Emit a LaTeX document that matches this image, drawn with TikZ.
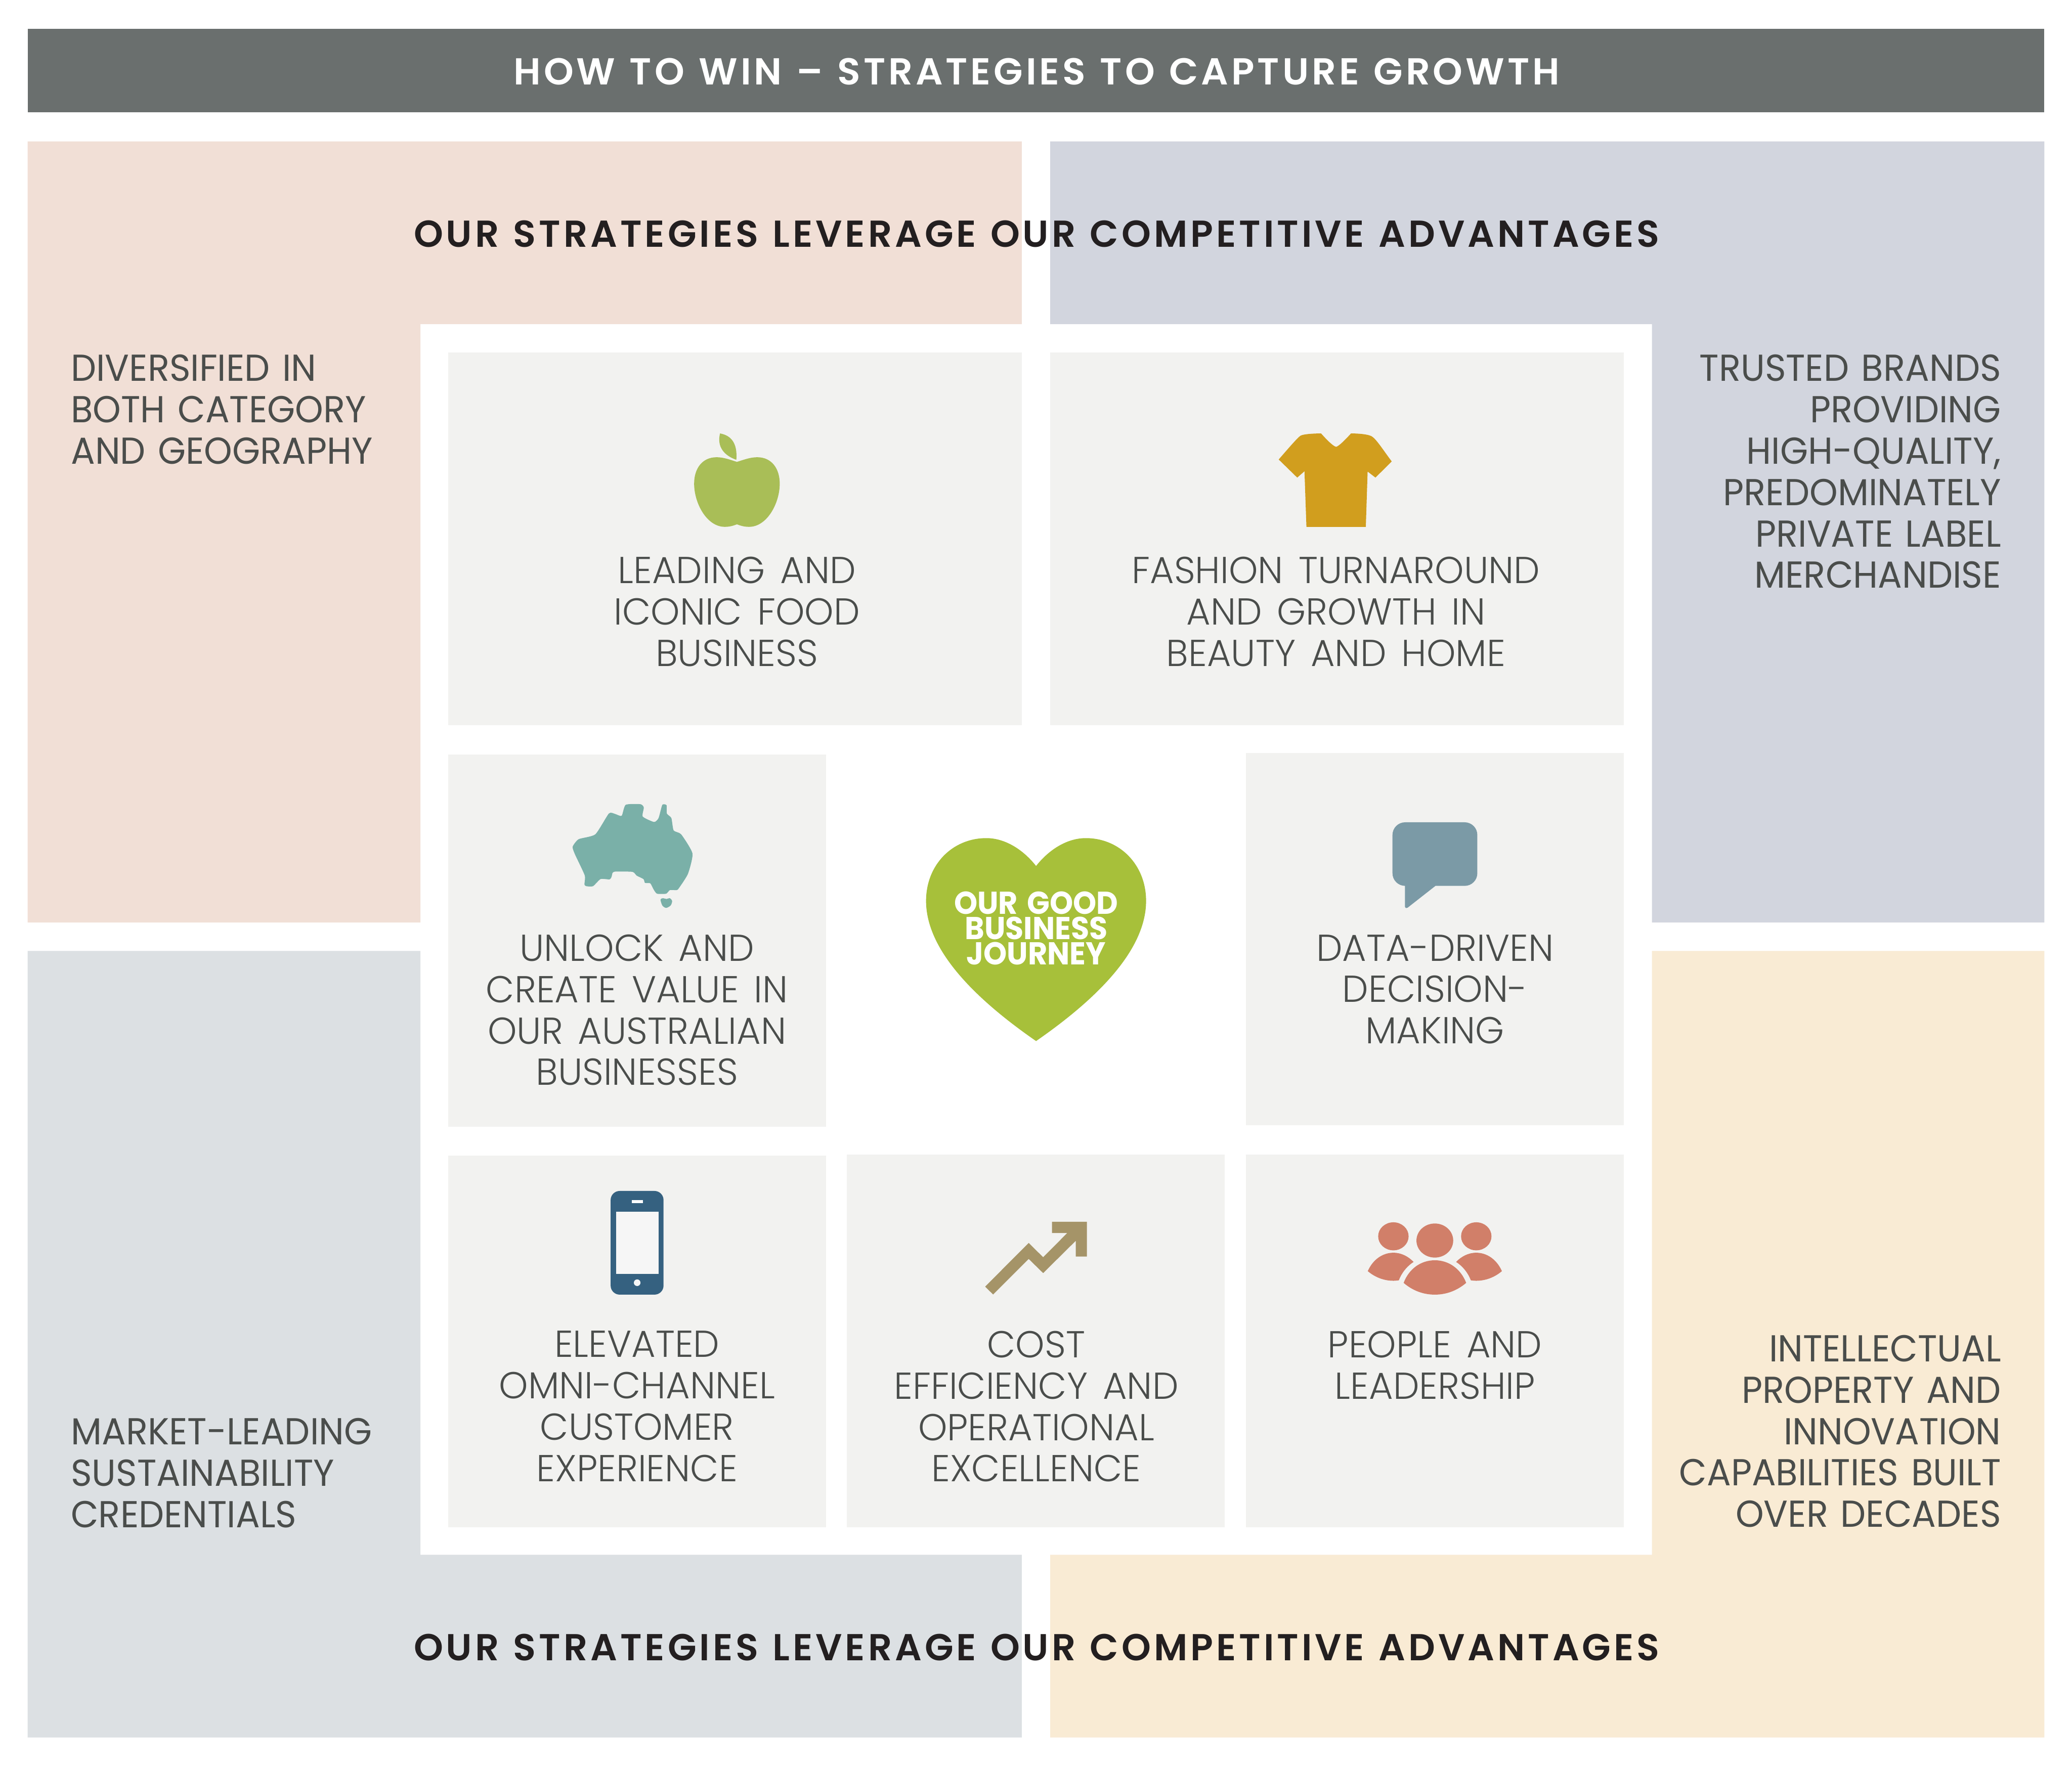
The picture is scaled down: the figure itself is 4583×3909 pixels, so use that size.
\documentclass[tikz,border=0pt]{standalone}
\usepackage{fontspec}
\setmainfont{Poppins}
\newfontfamily\cardfont{Poppins Light}[FakeStretch=0.985,WordSpace=1.5]
\newfontfamily\sidefont{Poppins}[FakeStretch=0.955,WordSpace=1.3]
\newfontfamily\headfont{Poppins SemiBold}[FakeStretch=0.995,LetterSpace=8,WordSpace=1.2]
\newfontfamily\titlefont{Poppins SemiBold}[FakeStretch=1.01,LetterSpace=8,WordSpace=1.2]
\newfontfamily\heartfont{Poppins Bold}[FakeStretch=0.94,WordSpace=1.5]
\definecolor{pinkp}{HTML}{F1DFD6}
\definecolor{bluep}{HTML}{D2D5DE}
\definecolor{grayp}{HTML}{DCE0E3}
\definecolor{creamp}{HTML}{F9EBD4}
\definecolor{cardc}{HTML}{F2F2F0}
\definecolor{barc}{HTML}{6A6F6E}
\definecolor{inkc}{HTML}{4A4D4B}
\definecolor{headc}{HTML}{231F20}
\tikzset{
 x=0.1pt,y=-0.1pt,
 cardbox/.style={fill=cardc},
 cardtxt/.style={anchor=north,align=center,inner sep=0pt,text=inkc,font=\cardfont\fontsize{8.3}{9.15}\selectfont},
 sideleft/.style={anchor=north west,align=left,inner sep=0pt,text=inkc,font=\sidefont\fontsize{8.3}{9.15}\selectfont},
 sideright/.style={anchor=north east,align=right,inner sep=0pt,text=inkc,font=\sidefont\fontsize{8.3}{9.15}\selectfont},
 headtxt/.style={inner sep=0pt,text=headc,font=\headfont\fontsize{8.3}{10}\selectfont},
 icon/.style={shift={#1},scale=0.33333},
}
\begin{document}
\begin{tikzpicture}
\useasboundingbox (0,0) rectangle (4583,3909);
\fill[white] (0,0) rectangle (4583,3909);
% bar
\fill[barc] (61,64) rectangle (4522,248);
\node[inner sep=0pt,text=white,font=\titlefont\fontsize{8.3}{10}\selectfont] (title) at (2293,158) {HOW TO WIN – STRATEGIES TO CAPTURE GROWTH};
% panels
\fill[pinkp] (61,313) -- (2260,313) -- (2260,717) -- (930,717) -- (930,2041) -- (61,2041) -- cycle;
\fill[bluep] (2323,313) -- (4522,313) -- (4522,2041) -- (3654,2041) -- (3654,717) -- (2323,717) -- cycle;
\fill[grayp] (61,2104) -- (930,2104) -- (930,3440) -- (2260,3440) -- (2260,3844) -- (61,3844) -- cycle;
\fill[creamp] (3654,2104) -- (4522,2104) -- (4522,3844) -- (2323,3844) -- (2323,3440) -- (3654,3440) -- cycle;
% headings
\node[headtxt] (headtop) at (2293,517) {OUR STRATEGIES LEVERAGE OUR COMPETITIVE ADVANTAGES};
\node[headtxt] (headbot) at (2293,3645) {OUR STRATEGIES LEVERAGE OUR COMPETITIVE ADVANTAGES};
% cards
\fill[cardbox] (991,780) rectangle (2260,1605);
\fill[cardbox] (2323,780) rectangle (3592,1605);
\fill[cardbox] (991,1669) rectangle (1827,2493);
\fill[cardbox] (2756,1666) rectangle (3592,2490);
\fill[cardbox] (991,2557) rectangle (1827,3379);
\fill[cardbox] (1873,2554) rectangle (2709,3379);
\fill[cardbox] (2756,2554) rectangle (3592,3379);
% side texts
\node[sideleft] (s1) at (155,783) {DIVERSIFIED IN\\BOTH CATEGORY\\AND GEOGRAPHY};
\node[sideleft] (s2) at (155,3136) {MARKET-LEADING\\SUSTAINABILITY\\CREDENTIALS};
\node[sideright] (s3) at (4428,783) {TRUSTED BRANDS\\PROVIDING\\HIGH-QUALITY,\\PREDOMINATELY\\PRIVATE LABEL\\MERCHANDISE};
\node[sideright] (s4) at (4428,2952) {INTELLECTUAL\\PROPERTY AND\\INNOVATION\\CAPABILITIES BUILT\\OVER DECADES};
% card texts
\node[cardtxt] (c1) at (1630,1230) {LEADING AND\\ICONIC FOOD\\BUSINESS};
\node[cardtxt] (c2) at (2955,1230) {FASHION TURNAROUND\\AND GROWTH IN\\BEAUTY AND HOME};
\node[cardtxt] (c3) at (1409,2066) {UNLOCK AND\\CREATE VALUE IN\\OUR AUSTRALIAN\\BUSINESSES};
\node[cardtxt] (c4) at (3174,2066) {DATA-DRIVEN\\DECISION-\\MAKING};
\node[cardtxt] (c5) at (1409,2943) {ELEVATED\\OMNI-CHANNEL\\CUSTOMER\\EXPERIENCE};
\node[cardtxt] (c6) at (2292,2943) {COST\\EFFICIENCY AND\\OPERATIONAL\\EXCELLENCE};
\node[cardtxt] (c7) at (3174,2943) {PEOPLE AND\\LEADERSHIP};
% apple
\begin{scope}[icon={(1200,900)}]
\fill[fill={rgb,255:red,169;green,190;blue,87}] (1290,366) .. controls (1240,350) and (1200,335) .. (1155,335) .. controls (1060,335) and (1006,410) .. (1006,510) .. controls (1006,640) and (1090,797) .. (1210,797) .. controls (1240,797) and (1265,790) .. (1290,780) .. controls (1315,790) and (1340,797) .. (1370,797) .. controls (1490,797) and (1574,640) .. (1574,510) .. controls (1574,410) and (1520,335) .. (1425,335) .. controls (1380,335) and (1340,350) .. (1290,366) -- cycle;
\fill[fill={rgb,255:red,169;green,190;blue,87}] (1178,177) .. controls (1250,190) and (1295,240) .. (1286,352) .. controls (1210,325) and (1155,270) .. (1178,177) -- cycle;
\end{scope}
% shirt
\begin{scope}[icon={(2700,900)}]
\fill[fill={rgb,255:red,209;green,158;blue,30}] (385,350) -- (508,470) -- (556,428) -- (569,797) -- (963,797) -- (975,430) -- (1027,470) -- (1135,363) .. controls (1080,290) and (1030,210) .. (1000,195) .. controls (970,180) and (900,177) .. (865,177) .. controls (830,215) and (785,262) .. (766,266) .. controls (745,262) and (700,215) .. (666,177) .. controls (630,177) and (550,180) .. (530,192) .. controls (510,205) and (450,275) .. (385,350) -- cycle;
\end{scope}
% australia
\begin{scope}[icon={(1200,1730)}]
\fill[fill={rgb,255:red,122;green,176;blue,168}] plot[smooth cycle,tension=0.35] coordinates {(200,430)(215,480)(280,620)(278,680)(290,692)(335,692)(385,645)(445,647)(458,630)(465,603)(485,595)(597,597)(625,622)(670,645)(680,670)(715,673)(738,715)(760,742)(820,742)(845,718)(890,718)(905,705)(965,610)(995,475)(920,348)(870,322)(855,240)(825,210)(823,155)(795,152)(770,240)(740,266)(665,230)(672,170)(650,148)(552,152)(525,225)(480,212)(440,210)(350,348)(240,380)};
\fill[fill={rgb,255:red,122;green,176;blue,168}] plot[smooth cycle,tension=0.5] coordinates {(783,780)(800,772)(822,777)(845,772)(860,790)(850,820)(820,836)(795,820)};
\end{scope}
% heart
\begin{scope}[icon={(2040,1840)}]
\fill[fill={rgb,255:red,167;green,192;blue,58}] (755,228) .. controls (840,120) and (960,43) .. (1085,43) .. controls (1310,43) and (1485,220) .. (1485,460) .. controls (1485,800) and (1130,1130) .. (755,1390) .. controls (380,1130) and (25,800) .. (25,460) .. controls (25,220) and (200,43) .. (425,43) .. controls (550,43) and (670,120) .. (755,228) -- cycle;
\end{scope}
\node[anchor=north,align=center,inner sep=0pt,text=white,font=\heartfont\fontsize{7}{5.6}\selectfont] (heart) at (2292,1971) {OUR GOOD\\BUSINESS\\JOURNEY};
% bubble
\begin{scope}[icon={(3000,1780)}]
\fill[fill={rgb,255:red,123;green,154;blue,166},rounded corners=2.8pt] (240,118) rectangle (803,540);
\fill[fill={rgb,255:red,123;green,154;blue,166}] (323,530) -- (323,680) .. controls (325,688) and (333,690) .. (340,685) -- (525,540) -- (525,530) -- cycle;
\end{scope}
% phone
\begin{scope}[icon={(1300,2600)}]
\fill[fill={rgb,255:red,53;green,97;blue,128},rounded corners=2pt] (152,105) rectangle (503,793);
\fill[fill={rgb,255:red,246;green,246;blue,246}] (187,243) rectangle (470,655);
\fill[white] (291,165) rectangle (365,185);
\fill[fill={rgb,255:red,246;green,246;blue,246}] (328,714) circle [radius=22];
\end{scope}
% arrow
\begin{scope}[icon={(2130,2660)}]
\fill[fill={rgb,255:red,165;green,148;blue,104}] (147,560) -- (436,270) -- (532,365) -- (692,204) -- (591,204) -- (591,129) -- (822,129) -- (822,360) -- (748,360) -- (748,256) -- (532,470) -- (436,376) -- (200,612) -- cycle;
\end{scope}
% people
\begin{scope}[icon={(3000,2660)},fill={rgb,255:red,209;green,127;blue,105}]
\fill (246,226) ellipse [x radius=101,y radius=93];
\fill (521,254) ellipse [x radius=122,y radius=113];
\fill (796,226) ellipse [x radius=101,y radius=93];
\fill (314,535) .. controls (350,440) and (430,385) .. (521,385) .. controls (612,385) and (692,440) .. (729,535) .. controls (670,585) and (600,613) .. (521,613) .. controls (442,613) and (372,585) .. (314,535) -- cycle;
\fill (76,457) .. controls (110,380) and (175,335) .. (246,335) .. controls (300,335) and (345,360) .. (380,396) .. controls (335,425) and (300,470) .. (282,518) .. controls (270,520) and (255,521) .. (246,521) .. controls (180,521) and (120,495) .. (76,457) -- cycle;
\fill (966,457) .. controls (932,380) and (867,335) .. (796,335) .. controls (742,335) and (697,360) .. (662,396) .. controls (707,425) and (742,470) .. (760,518) .. controls (772,520) and (787,521) .. (796,521) .. controls (862,521) and (922,495) .. (966,457) -- cycle;
\end{scope}
\end{tikzpicture}
\end{document}
